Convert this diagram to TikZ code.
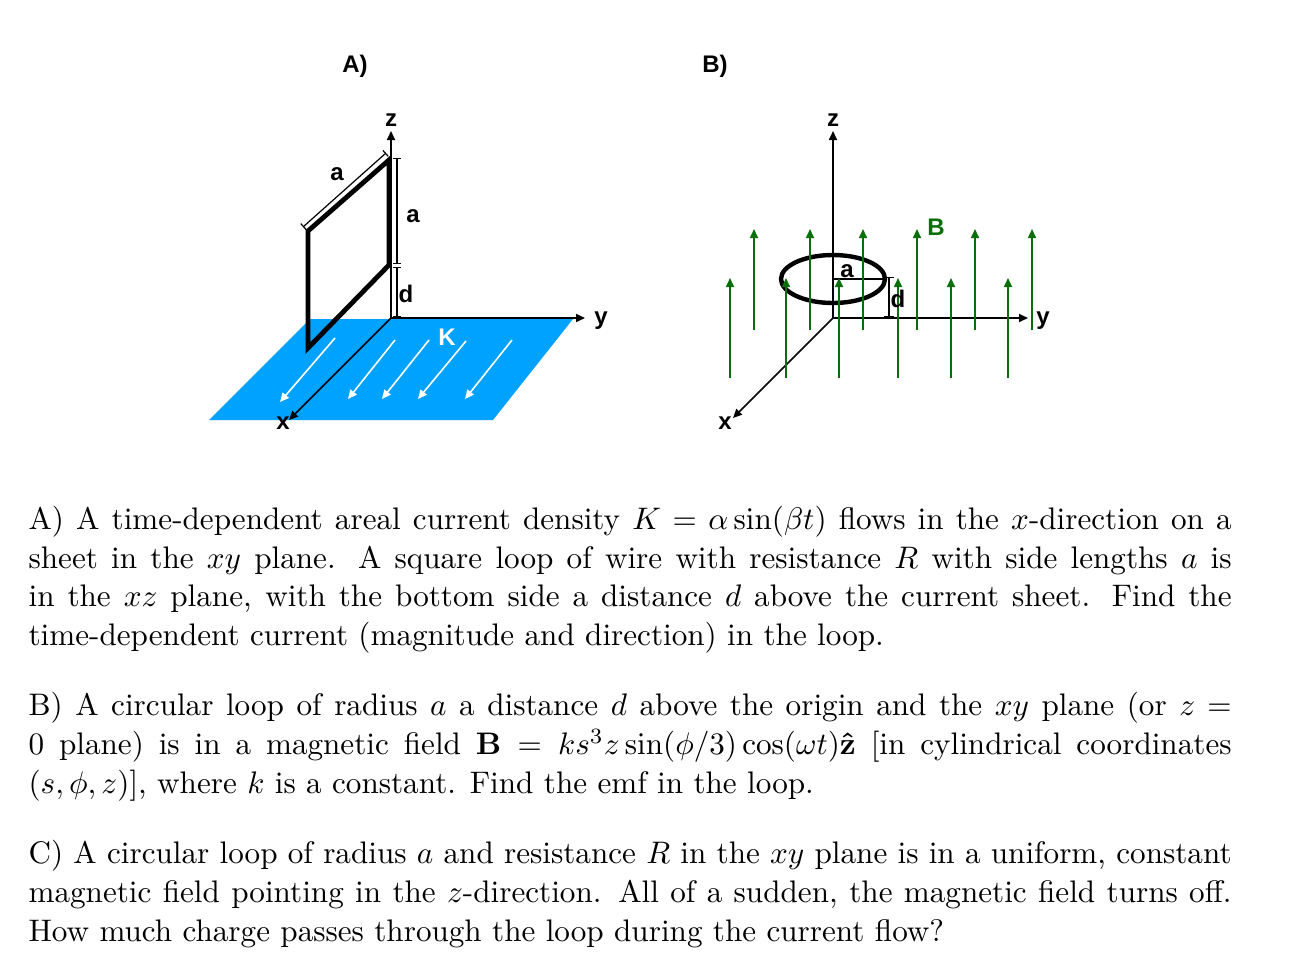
\documentclass[tikz,border=0pt]{standalone}
\usepackage{amsmath}
\usepackage[no-math]{fontspec}
\newfontfamily\labfont{Liberation Sans}
\usetikzlibrary{arrows.meta}
\definecolor{sheetblue}{RGB}{0,162,255}
\definecolor{fieldgreen}{RGB}{10,110,10}
\tikzset{
  lab/.style={font=\labfont\fontsize{24}{24}\selectfont\bfseries, inner sep=0pt},
  axisline/.style={line width=1.7pt, -{Triangle[width=8pt,length=9pt]}},
  wire/.style={line width=4.8pt, line join=miter},
  dimline/.style={line width=1.2pt, {Bar[width=8pt,line width=1.2pt]}-{Bar[width=8pt,line width=1.2pt]}},
  curarrow/.style={white, line width=1.6pt, -{Triangle[width=8pt,length=9pt]}},
  fieldarrow/.style={fieldgreen, line width=1.6pt, -{Triangle[width=8pt,length=9pt]}},
  para/.style={anchor=north west, scale=3.115, transform shape, text width=386.2pt, inner sep=0pt, align=justify, font=\fontsize{10}{12.36}\selectfont}
}
\begin{document}
\begin{tikzpicture}[x=1pt,y=-1pt]
\useasboundingbox (0,0) rectangle (1295,977);
\fill[white] (0,0) rectangle (1295,977);
% Panel A
\node[lab] (titleA) at (355,66) {A)};
\coordinate (sa) at (310,319); \coordinate (sb) at (573,319);
\coordinate (sc) at (493,420); \coordinate (sd) at (209,420);
\fill[sheetblue] (sa) -- (sb) -- (sc) -- (sd) -- cycle;
\coordinate (oA) at (391,318);
\node[lab] (zA) at (391,120) {z};
\node[lab] (yA) at (601,321) {y};
\node[lab] (xA) at (283,423) {x};
\coordinate (zAt) at (391,131); \coordinate (yAt) at (585,318); \coordinate (xAt) at (289,420);
\draw[axisline] (oA) -- (zAt);
\draw[axisline] (oA) -- (yAt);
\draw[axisline] (oA) -- (xAt);
\coordinate (la) at (389,160); \coordinate (lb) at (389,265);
\coordinate (lc) at (308,348); \coordinate (ld) at (308,231);
\draw[wire] (la) -- (lb) -- (lc) -- (ld) -- cycle;
\foreach \n/\xa/\ya/\xb/\yb in {1/335/338/280/402,2/395/340/348/399,3/429/340/382/399,4/466/341/418/399,5/512/340/465/399}{
  \coordinate (cs\n) at (\xa,\ya); \coordinate (ce\n) at (\xb,\yb);
  \draw[curarrow] (cs\n) -- (ce\n);
}
\coordinate (da1) at (303,227); \coordinate (da2) at (386,153);
\draw[dimline] (da1) -- (da2);
\coordinate (db1) at (397,158); \coordinate (db2) at (397,264);
\draw[dimline] (db1) -- (db2);
\coordinate (db3) at (397,267); \coordinate (db4) at (397,317);
\draw[dimline] (db3) -- (db4);
\node[lab] (aA1) at (337,174) {a};
\node[lab] (aA2) at (413,216) {a};
\node[lab] (dA) at (406,294) {d};
\node[lab,white] (K) at (447,337) {K};
% Panel B
\node[lab] (titleB) at (715,66) {B)};
\coordinate (oB) at (833,318);
\coordinate (zBt) at (833,131); \coordinate (yBt) at (1028,318); \coordinate (xBt) at (733,418);
\node[lab] (zB) at (833,120) {z};
\node[lab] (yB) at (1043,321) {y};
\node[lab] (xB) at (725,423) {x};
\draw[axisline] (oB) -- (zBt);
\draw[axisline] (oB) -- (yBt);
\draw[axisline] (oB) -- (xBt);
\coordinate (cB) at (833,279); \coordinate (rB) at (885,279);
\draw[line width=4.4pt] (cB) ellipse [x radius=52, y radius=24];
\draw[line width=1.3pt] (cB) -- (rB);
\foreach \n/\px in {1/754,2/810,3/863,4/917,5/975,6/1032}{
  \coordinate (bs\n) at (\px,330); \coordinate (be\n) at (\px,229);
  \draw[fieldarrow] (bs\n) -- (be\n);
}
\foreach \n/\px in {1/730,2/786,3/839,4/898,5/951,6/1008}{
  \coordinate (fs\n) at (\px,378); \coordinate (fe\n) at (\px,278);
  \draw[fieldarrow] (fs\n) -- (fe\n);
}
\coordinate (dd1) at (889,277); \coordinate (dd2) at (889,317);
\draw[dimline,{Bar[width=10pt]}-{Bar[width=10pt]}] (dd1) -- (dd2);
\node[lab] (aB) at (847,271) {a};
\node[lab] (dB) at (898,299) {d};
\node[lab,text=fieldgreen] (Blab) at (936,227) {B};
% Text
\node[para] (pa) at (28,506) {A) A time-dependent areal current density $K=\alpha\sin(\beta t)$ flows in the $x$-direction on a\linebreak
sheet in the $xy$ plane. A square loop of wire with resistance $R$ with side lengths $a$ is\linebreak
in the $xz$ plane, with the bottom side a distance $d$ above the current sheet. Find the\linebreak
time-dependent current (magnitude and direction) in the loop.\par};
\node[para] (pb) at (28,692) {B) A circular loop of radius $a$ a distance $d$ above the origin and the $xy$ plane (or $z=$\linebreak
$0$ plane) is in a magnetic field $\mathbf{B}=ks^3z\sin(\phi/3)\cos(\omega t)\boldsymbol{\hat{\mathbf{z}}}$ [in cylindrical coordinates\linebreak
$(s,\phi,z)$], where $k$ is a constant. Find the emf in the loop.\par};
\node[para] (pc) at (28,840) {C) A circular loop of radius $a$ and resistance $R$ in the $xy$ plane is in a uniform, constant\linebreak
magnetic field pointing in the $z$-direction. All of a sudden, the magnetic field turns off.\linebreak
How much charge passes through the loop during the current flow?\par};
\end{tikzpicture}
\end{document}
